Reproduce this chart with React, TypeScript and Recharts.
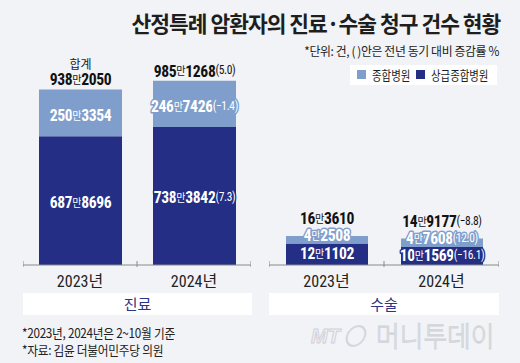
import { BarChart, Bar, XAxis, YAxis, LabelList } from "recharts";

const years = ["2023년", "2024년"];

// 진료 (건)
const clinicGeneral = [2503354, 2467426];
const clinicTertiary = [6878696, 7383842];
const clinicTotal = [9382050, 9851268];
const clinicGeneralRate = ["", "−1.4"];
const clinicTertiaryRate = ["", "7.3"];
const clinicTotalRate = ["", "5.0"];

// 수술 (건)
const surgeryGeneral = [42508, 47608];
const surgeryTertiary = [121102, 101569];
const surgeryTotal = [163610, 149177];
const surgeryGeneralRate = ["", "12.0"];
const surgeryTertiaryRate = ["", "−16.1"];
const surgeryTotalRate = ["", "−8.8"];

const LIGHT = "#7f9ecb";
const DARK = "#232e84";
const AXIS = "#8a8a8a";
const BG = "#f2f3f6";
const NUM_FONT = "'Liberation Sans Narrow', 'Roboto Condensed', 'Noto Sans CJK KR', sans-serif";
const KR_FONT = "'Noto Sans CJK KR', sans-serif";

const clinicData = years.map((name, i) => ({
  name,
  general: clinicGeneral[i],
  tertiary: clinicTertiary[i],
}));

const surgeryData = years.map((name, i) => ({
  name,
  general: surgeryGeneral[i],
  tertiary: surgeryTertiary[i],
}));

interface NumTextProps {
  x: number;
  y: number;
  count: number;
  rate: string;
  fill: string;
  stroke?: string;
}

function NumText({ x, y, count, rate, fill, stroke }: NumTextProps) {
  const man = Math.floor(count / 10000);
  const rest = String(count % 10000).padStart(4, "0");
  return (
    <text
      transform={`translate(${x} ${y}) scale(0.92 1)`}
      textAnchor="middle"
      dominantBaseline="central"
      fill={fill}
      stroke={stroke}
      strokeWidth={stroke ? 3 : 0}
      paintOrder="stroke"
      strokeLinejoin="round"
      fontFamily={NUM_FONT}
      letterSpacing={-0.4}
    >
      <tspan fontSize={17} fontWeight={700}>{man}</tspan>
      <tspan fontSize={11} fontFamily={KR_FONT} fontWeight={400}>만</tspan>
      <tspan fontSize={17} fontWeight={700}>{rest}</tspan>
      {rate && <tspan fontSize={12.5} fontWeight={400}>({rate})</tspan>}
    </text>
  );
}

function makeInside(counts: number[], rates: string[], stroke: string, dy: number) {
  return (p: any) => {
    const i = p.index;
    return (
      <NumText
        x={p.x + p.width / 2}
        y={p.y + p.height / 2 + dy}
        count={counts[i]}
        rate={rates[i]}
        fill="#ffffff"
        stroke={stroke}
      />
    );
  };
}

function makeTotal(counts: number[], rates: string[], dy: number, showSum: boolean) {
  return (p: any) => {
    const i = p.index;
    const cx = p.x + p.width / 2;
    return (
      <g>
        {showSum && i === 0 && (
          <text
            x={cx}
            y={p.y + dy - 16}
            textAnchor="middle"
            dominantBaseline="central"
            fontFamily={KR_FONT}
            fontSize={12}
            fill="#222"
          >
            합계
          </text>
        )}
        <NumText x={cx} y={p.y + dy} count={counts[i]} rate={rates[i]} fill="#111" />
      </g>
    );
  };
}

function YearTick(props: any) {
  const { x, y, payload, index, visibleTicksCount, half } = props;
  const off = payload.offset || half;
  return (
    <g>
      <line x1={x - off} x2={x - off} y1={y - 4} y2={y + 2} stroke={AXIS} />
      {index === visibleTicksCount - 1 && (
        <line x1={x + off} x2={x + off} y1={y - 4} y2={y + 2} stroke={AXIS} />
      )}
      <text
        x={x}
        y={y + 16}
        textAnchor="middle"
        dominantBaseline="central"
        fontFamily={NUM_FONT}
        fontSize={16}
        fill="#222"
      >
        {payload.value}
      </text>
    </g>
  );
}

interface PanelProps {
  data: { name: string; general: number; tertiary: number }[];
  left: number;
  width: number;
  marginTop: number;
  yMax: number;
  barSize: number;
  inside: { general: any; tertiary: any; total: any };
}

function Panel({ data, left, width, marginTop, yMax, barSize, inside }: PanelProps) {
  return (
    <div style={{ position: "absolute", left, top: 40 }}>
      <BarChart
        width={width}
        height={255}
        data={data}
        margin={{ top: marginTop, right: 0, bottom: 0, left: 0 }}
        barSize={barSize}
      >
        <XAxis
          dataKey="name"
          height={30}
          stroke={AXIS}
          tickLine={false}
          tickSize={0}
          tickMargin={0}
          interval={0}
          tick={<YearTick half={width / data.length / 2} />}
        />
        <YAxis hide domain={[0, yMax]} />
        <Bar dataKey="tertiary" stackId="a" fill={DARK} isAnimationActive={false}>
          <LabelList dataKey="tertiary" content={inside.tertiary} />
        </Bar>
        <Bar dataKey="general" stackId="a" fill={LIGHT} isAnimationActive={false}>
          <LabelList dataKey="general" content={inside.general} />
          <LabelList dataKey="general" content={inside.total} />
        </Bar>
      </BarChart>
    </div>
  );
}

export default function App() {
  return (
    <div
      style={{
        position: "absolute",
        left: 0,
        top: 0,
        width: 520,
        height: 363,
        background: BG,
        overflow: "hidden",
        fontFamily: KR_FONT,
        color: "#222",
      }}
    >
      <div
        style={{
          position: "absolute",
          right: 20,
          top: 6,
          fontSize: 22,
          fontWeight: 700,
          letterSpacing: -1,
          whiteSpace: "nowrap",
          transform: "scaleX(0.975)",
          transformOrigin: "right center",
          color: "#1e1e1e",
        }}
      >
        산정특례 암환자의 진료·수술 청구 건수 현황
      </div>
      <div
        style={{
          position: "absolute",
          right: 21,
          top: 41,
          fontSize: 12.5,
          whiteSpace: "nowrap",
          letterSpacing: -0.4,
          transform: "scaleX(0.95)",
          transformOrigin: "right center",
        }}
      >
        *단위: 건, ( )안은 전년 동기 대비 증감률 %
      </div>
      <div
        style={{
          position: "absolute",
          left: 350,
          top: 65,
          width: 147,
          height: 20,
          background: "#fff",
        }}
      >
        <div style={{ position: "absolute", left: 7, top: 5, width: 9, height: 9, background: LIGHT }} />
        <div
          style={{
            position: "absolute",
            left: 22,
            top: 1,
            fontSize: 13,
            lineHeight: "18px",
            whiteSpace: "nowrap",
            transform: "scaleX(0.8)",
            transformOrigin: "left center",
          }}
        >
          종합병원
        </div>
        <div style={{ position: "absolute", left: 66, top: 5, width: 9, height: 9, background: DARK }} />
        <div
          style={{
            position: "absolute",
            left: 81,
            top: 1,
            fontSize: 13,
            lineHeight: "18px",
            whiteSpace: "nowrap",
            transform: "scaleX(0.8)",
            transformOrigin: "left center",
          }}
        >
          상급종합병원
        </div>
      </div>

      <Panel
        data={clinicData}
        left={23}
        width={228}
        marginTop={38}
        yMax={10000000}
        barSize={83}
        inside={{
          tertiary: makeInside(clinicTertiary, clinicTertiaryRate, DARK, 1),
          general: makeInside(clinicGeneral, clinicGeneralRate, LIGHT, 2),
          total: makeTotal(clinicTotal, clinicTotalRate, -10.5, true),
        }}
      />
      <Panel
        data={surgeryData}
        left={269}
        width={230}
        marginTop={189.5}
        yMax={200000}
        barSize={82}
        inside={{
          tertiary: makeInside(surgeryTertiary, surgeryTertiaryRate, DARK, -1),
          general: makeInside(surgeryGeneral, surgeryGeneralRate, LIGHT, -5),
          total: makeTotal(surgeryTotal, surgeryTotalRate, -18, false),
        }}
      />

      {[
        { label: "진료", left: 23, width: 229 },
        { label: "수술", left: 269, width: 230 },
      ].map((b) => (
        <div
          key={b.label}
          style={{
            position: "absolute",
            left: b.left,
            top: 293,
            width: b.width,
            height: 22,
            background: "#fff",
            textAlign: "center",
            fontSize: 15,
            lineHeight: "22px",
            color: "#2b3486",
          }}
        >
          {b.label}
        </div>
      ))}

      <div
        style={{
          position: "absolute",
          left: 22,
          top: 324,
          fontSize: 13,
          lineHeight: "17px",
          whiteSpace: "nowrap",
          letterSpacing: -0.3,
          transform: "scaleX(0.9)",
          transformOrigin: "left top",
        }}
      >
        <div>*2023년, 2024년은 2~10월 기준</div>
        <div>*자료: 김윤 더불어민주당 의원</div>
      </div>

      <div
        style={{
          position: "absolute",
          left: 311,
          top: 324,
          whiteSpace: "nowrap",
          color: "#eef0f3",
          WebkitTextStroke: "1px #cfd2d8",
          fontFamily: "'Liberation Sans', sans-serif",
          fontStyle: "italic",
          fontWeight: 700,
          fontSize: 20,
          lineHeight: "24px",
        }}
      >
        MT
      </div>
      <div
        style={{
          position: "absolute",
          left: 346,
          top: 325,
          width: 20,
          height: 22,
          borderRadius: "50%",
          border: "2px solid #d3d6dc",
          boxSizing: "border-box",
          transform: "skewX(-15deg)",
        }}
      />
      <div
        style={{
          position: "absolute",
          left: 376,
          top: 317,
          whiteSpace: "nowrap",
          color: "#eef0f3",
          WebkitTextStroke: "1px #cfd2d8",
          fontSize: 28,
          fontWeight: 300,
          lineHeight: "36px",
          transform: "scaleX(0.92)",
          transformOrigin: "left center",
        }}
      >
        머니투데이
      </div>
    </div>
  );
}
